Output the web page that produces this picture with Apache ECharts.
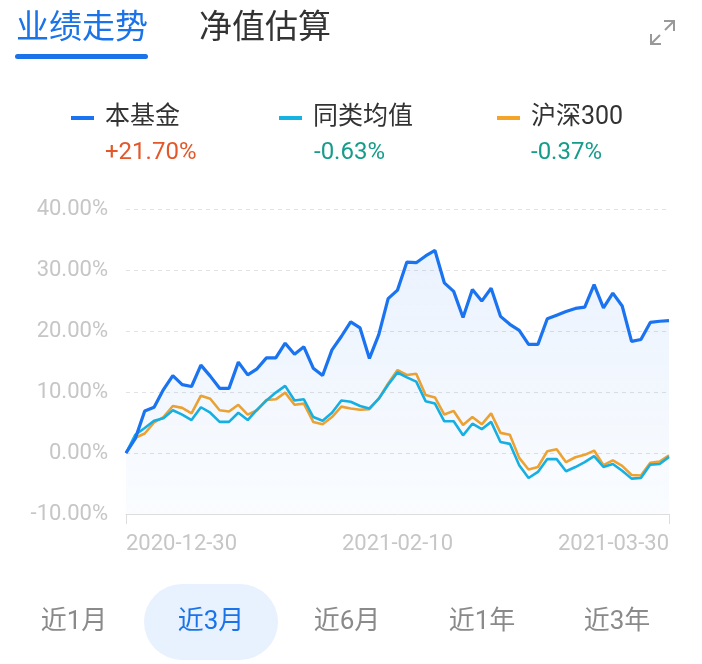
<!DOCTYPE html>
<html>
<head>
<meta charset="utf-8">
<script src="https://cdn.jsdelivr.net/npm/echarts@6/dist/echarts.min.js"></script>
<style>
html, body { margin: 0; padding: 0; background: #fff; }
#main { width: 702px; height: 664px; }
</style>
</head>
<body>
<div id="main"></div>
<script>
// trading days of the last 3 months
var dates = [
  '2020-12-30','2020-12-31',
  '2021-01-04','2021-01-05','2021-01-06','2021-01-07','2021-01-08',
  '2021-01-11','2021-01-12','2021-01-13','2021-01-14','2021-01-15',
  '2021-01-18','2021-01-19','2021-01-20','2021-01-21','2021-01-22',
  '2021-01-25','2021-01-26','2021-01-27','2021-01-28','2021-01-29',
  '2021-02-01','2021-02-02','2021-02-03','2021-02-04','2021-02-05',
  '2021-02-08','2021-02-09','2021-02-10','2021-02-18','2021-02-19',
  '2021-02-22','2021-02-23','2021-02-24','2021-02-25','2021-02-26',
  '2021-03-01','2021-03-02','2021-03-03','2021-03-04','2021-03-05',
  '2021-03-08','2021-03-09','2021-03-10','2021-03-11','2021-03-12',
  '2021-03-15','2021-03-16','2021-03-17','2021-03-18','2021-03-19',
  '2021-03-22','2021-03-23','2021-03-24','2021-03-25','2021-03-26',
  '2021-03-29','2021-03-30'
];
var fund = [0, 2.4, 6.9, 7.5, 10.4, 12.7, 11.2, 10.9, 14.4, 12.6,
  10.6, 10.6, 14.9, 12.8, 13.8, 15.6, 15.6, 18.0, 16.2, 17.4,
  13.9, 12.7, 16.9, 19.1, 21.5, 20.5, 15.5, 19.4, 25.3, 26.7,
  31.3, 31.2, 32.3, 33.2, 27.9, 26.5, 22.2, 26.8, 24.9, 27.0,
  22.4, 21.1, 20.1, 17.8, 17.8, 22.0, 22.6, 23.2, 23.7, 23.9,
  27.6, 23.8, 26.2, 24.1, 18.3, 18.6, 21.4, 21.6, 21.70];
var peer = [0, 3.0, 4.1, 5.3, 5.7, 7.0, 6.3, 5.4, 7.5, 6.6,
  5.1, 5.1, 6.6, 5.4, 7.1, 8.6, 9.9, 11.0, 8.6, 8.8,
  5.9, 5.3, 6.6, 8.6, 8.4, 7.7, 7.3, 8.9, 11.2, 13.2,
  12.4, 11.7, 8.5, 8.1, 5.2, 5.2, 2.9, 4.8, 3.9, 5.1,
  1.8, 1.5, -2.0, -4.1, -3.1, -1.0, -1.0, -3.0, -2.3, -1.5,
  -0.5, -2.3, -1.8, -2.9, -4.2, -4.1, -1.9, -1.8, -0.63];
var hs300 = [0, 2.5, 3.2, 5.0, 5.9, 7.7, 7.4, 6.5, 9.4, 8.9,
  7.0, 6.8, 7.9, 6.3, 7.0, 8.7, 8.8, 9.9, 7.9, 8.1,
  5.1, 4.7, 5.9, 7.6, 7.3, 7.1, 7.2, 8.9, 11.4, 13.6,
  12.8, 13.0, 9.5, 9.1, 6.3, 6.9, 4.6, 5.9, 4.7, 6.5,
  3.3, 3.0, -0.8, -2.7, -2.3, 0.3, 0.6, -1.5, -0.7, -0.3,
  0.4, -2.0, -1.2, -2.1, -3.6, -3.7, -1.6, -1.4, -0.37];

var names = ['本基金', '同类均值', '沪深300'];
var totals = ['+21.70%', '-0.63%', '-0.37%'];
var tabs = ['业绩走势', '净值估算'];
var periods = ['近1月', '近3月', '近6月', '近1年', '近3年'];
var labelIdx = [0, 29, 58];

var colors = ['#1a73f0', '#16b2e2', '#f5a42a'];
var FONT = 'Roboto, "Noto Sans CJK SC", sans-serif';

var myChart = echarts.init(document.getElementById('main'));

var legendX = [71, 279, 497];
var totalX = [105, 314, 531];
var periodX = [74, 211, 347, 482, 617];

var graphics = [
  { type: 'text', left: 16, top: 13, style: { text: tabs[0], fill: '#1a73e8', font: '33px ' + FONT } },
  { type: 'text', left: 199, top: 13, style: { text: tabs[1], fill: '#333', font: '33px ' + FONT } },
  { type: 'rect', shape: { x: 15, y: 54, width: 133, height: 5, r: 2.5 }, style: { fill: '#1a73e8' } },
  // expand icon
  { type: 'polyline', shape: { points: [[664, 21], [674, 21], [674, 31]] }, style: { stroke: '#999', lineWidth: 2, fill: null } },
  { type: 'line', shape: { x1: 674, y1: 21, x2: 665, y2: 30 }, style: { stroke: '#999', lineWidth: 2 } },
  { type: 'polyline', shape: { points: [[651, 34], [651, 44], [661, 44]] }, style: { stroke: '#999', lineWidth: 2, fill: null } },
  { type: 'line', shape: { x1: 651, y1: 44, x2: 660, y2: 35 }, style: { stroke: '#999', lineWidth: 2 } },
  // selected period pill
  { type: 'rect', shape: { x: 144, y: 584, width: 134, height: 76, r: 38 }, style: { fill: '#e8f1fe' } }
];
totals.forEach(function (t, i) {
  graphics.push({
    type: 'text', left: totalX[i], top: 141,
    style: { text: t, fill: i === 0 ? '#e2582a' : '#169c8b', font: '24px ' + FONT }
  });
});
periods.forEach(function (p, i) {
  graphics.push({
    type: 'text', x: periodX[i], y: 622,
    style: { text: p, fill: i === 1 ? '#1a73e8' : '#8a8a8a', font: '26px ' + FONT, align: 'center', verticalAlign: 'middle' }
  });
});

var option = {
  animation: false,
  color: colors,
  textStyle: { fontFamily: FONT },
  legend: names.map(function (n, i) {
    return {
      data: [n],
      left: legendX[i],
      top: 104,
      padding: 0,
      icon: 'rect',
      itemWidth: 23,
      itemHeight: 4,
      selectedMode: false,
      textStyle: { fontSize: 25, color: '#333', lineHeight: 28, padding: [0, 0, 0, 6] }
    };
  }),
  grid: { left: 126, right: 33, top: 209, bottom: 150 },
  xAxis: {
    type: 'category',
    data: dates,
    boundaryGap: false,
    axisLine: { onZero: false, lineStyle: { color: '#ddd', width: 1 } },
    axisTick: {
      length: 10,
      lineStyle: { color: '#ddd' },
      interval: function (i) { return i === 0 || i === dates.length - 1; }
    },
    axisLabel: {
      color: '#c6c6c6',
      fontSize: 22,
      margin: 19,
      alignMinLabel: 'left',
      alignMaxLabel: 'right',
      interval: function (i) { return labelIdx.indexOf(i) >= 0; }
    }
  },
  yAxis: {
    type: 'value',
    min: -10,
    max: 40,
    interval: 10,
    axisLine: { show: false },
    axisTick: { show: false },
    axisLabel: {
      color: '#c6c6c6',
      fontSize: 22,
      margin: 18,
      formatter: function (v) { return v.toFixed(2) + '%'; }
    },
    splitLine: {
      lineStyle: { color: '#e2e2e2', type: [4, 4] },
      showMinLine: false
    }
  },
  series: [
    {
      name: names[0], type: 'line', data: fund, symbol: 'none', z: 3,
      lineStyle: { width: 3.2, color: colors[0] },
      areaStyle: {
        origin: 'start',
        color: new echarts.graphic.LinearGradient(0, 0, 0, 1, [
          { offset: 0, color: 'rgba(26,115,240,0.13)' },
          { offset: 1, color: 'rgba(26,115,240,0.03)' }
        ])
      }
    },
    {
      name: names[1], type: 'line', data: peer, symbol: 'none', z: 2,
      lineStyle: { width: 2.6, color: colors[1] }
    },
    {
      name: names[2], type: 'line', data: hs300, symbol: 'none', z: 1,
      lineStyle: { width: 2.6, color: colors[2] }
    }
  ],
  graphic: graphics
};
myChart.setOption(option);
</script>
</body>
</html>
